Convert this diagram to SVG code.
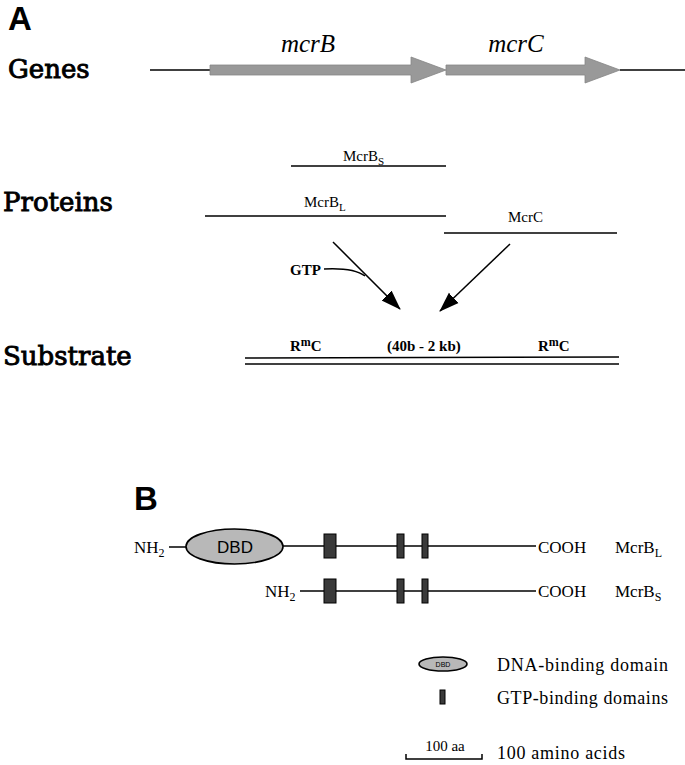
<svg xmlns="http://www.w3.org/2000/svg" width="685" height="765" viewBox="0 0 685 765">
<style>
.panel{font-family:"Liberation Sans",Arial,sans-serif;font-weight:bold;font-size:33px;fill:#000}
.row{font-family:"DejaVu Serif",serif;font-size:26px;fill:#000;stroke:#000;stroke-width:0.9}
.gene{font-family:"Liberation Serif",serif;font-style:italic;font-size:25px;fill:#000}
.lab{font-family:"Liberation Serif",serif;font-size:15px;fill:#000}
.bold{font-family:"Liberation Serif",serif;font-weight:bold;font-size:15px;fill:#000}
.end{font-family:"Liberation Serif",serif;font-size:17px;fill:#000}
.leg{font-family:"Liberation Serif",serif;font-size:18px;fill:#000}
.dbd{font-family:"Liberation Sans",Arial,sans-serif;fill:#000}
.ln{stroke:#000;stroke-width:1.5;fill:none}
.garrow{fill:#999;stroke:#858585;stroke-width:0.8}
.box{fill:#3a3a3a;stroke:#000;stroke-width:1}
.ell{fill:#b8b8b8;stroke:#000;stroke-width:1.6}
</style>
<defs>
<marker id="ah" markerUnits="userSpaceOnUse" markerWidth="20" markerHeight="16" viewBox="0 0 20 16" refX="19" refY="8" orient="auto">
<path d="M0,1 L20,8 L0,15 Z" fill="#000"/>
</marker>
</defs>
<rect width="685" height="765" fill="#fff"/>

<g id="panelA">
<text class="panel" x="8" y="30">A</text>
</g>

<g id="genes">
<text class="row" x="8" y="78">Genes</text>
<line class="ln" x1="150" y1="70" x2="210" y2="70"/>
<polygon class="garrow" points="210,65 411,65 411,57 446,70 411,83 411,75 210,75"/>
<text class="gene" x="308" y="52" text-anchor="middle">mcrB</text>
<polygon class="garrow" points="446,65 585,65 585,57 620,70 585,83 585,75 446,75"/>
<text class="gene" x="516" y="52" text-anchor="middle">mcrC</text>
<line class="ln" x1="620" y1="70" x2="685" y2="70"/>
</g>

<g id="proteins">
<text class="row" x="3" y="211">Proteins</text>
</g>
<g id="mcrBS">
<text class="lab" x="343" y="161">McrB<tspan font-size="11" dy="4">S</tspan></text>
<line class="ln" x1="291" y1="166" x2="446" y2="166"/>
</g>
<g id="mcrBL">
<text class="lab" x="304" y="207">McrB<tspan font-size="11" dy="4">L</tspan></text>
<line class="ln" x1="205" y1="216" x2="446" y2="216"/>
</g>
<g id="mcrC">
<text class="lab" x="508" y="222">McrC</text>
<line class="ln" x1="444" y1="233" x2="617" y2="233"/>
</g>
<g id="gtp">
<text class="bold" x="290" y="275">GTP</text>
</g>

<g id="substrate">
<text class="row" x="3" y="365">Substrate</text>
<text class="bold" x="290" y="351">R<tspan font-size="12" dy="-5">m</tspan><tspan dy="5">C</tspan></text>
<text class="bold" x="387" y="351">(40b - 2 kb)</text>
<text class="bold" x="538" y="351">R<tspan font-size="12" dy="-5">m</tspan><tspan dy="5">C</tspan></text>
<line class="ln" x1="245" y1="358" x2="619" y2="357"/>
<line class="ln" x1="245" y1="364" x2="619" y2="364"/>
</g>

<g id="connectors">
<line class="ln" x1="333" y1="242" x2="400" y2="309" marker-end="url(#ah)"/>
<line class="ln" x1="510" y1="244" x2="440" y2="311" marker-end="url(#ah)"/>
<path class="ln" d="M324,269 C343,268 357,270 365,276"/>
</g>

<g id="panelB">
<text class="panel" x="134" y="510">B</text>
</g>

<g id="mcrBL-domain">
<text class="end" x="134" y="553">NH<tspan font-size="12" dy="4">2</tspan></text>
<line class="ln" x1="169" y1="547" x2="187" y2="547"/>
<line class="ln" x1="282" y1="546" x2="536" y2="546"/>
<ellipse class="ell" cx="234.5" cy="546.5" rx="48.5" ry="17.5"/>
<text class="dbd" x="235" y="553" font-size="17" text-anchor="middle">DBD</text>
<rect class="box" x="324" y="534" width="12" height="24"/>
<rect class="box" x="397" y="534" width="7" height="24"/>
<rect class="box" x="422" y="534" width="6" height="24"/>
<text class="end" x="538" y="553">COOH</text>
<text class="end" x="615" y="553">McrB<tspan font-size="12" dy="4">L</tspan></text>
</g>

<g id="mcrBS-domain">
<text class="end" x="265" y="597">NH<tspan font-size="12" dy="4">2</tspan></text>
<line class="ln" x1="300" y1="591" x2="536" y2="591"/>
<rect class="box" x="324" y="579" width="12" height="24"/>
<rect class="box" x="397" y="579" width="7" height="24"/>
<rect class="box" x="422" y="579" width="6" height="24"/>
<text class="end" x="538" y="597">COOH</text>
<text class="end" x="615" y="597">McrB<tspan font-size="12" dy="4">S</tspan></text>
</g>

<g id="legend-dbd">
<ellipse class="ell" cx="443" cy="664" rx="24" ry="7" stroke-width="1.2"/>
<text class="dbd" x="443" y="666.5" font-size="7" text-anchor="middle">DBD</text>
<text class="leg" x="497" y="671" textLength="171">DNA-binding domain</text>
</g>
<g id="legend-gtp">
<rect class="box" x="440" y="690" width="5" height="14"/>
<text class="leg" x="497" y="704" textLength="171">GTP-binding domains</text>
</g>
<g id="legend-scale">
<text class="lab" x="445" y="751" font-size="14" text-anchor="middle">100 aa</text>
<path class="ln" d="M406,754 L406,759 L482,759 L482,754" stroke-width="1.5"/>
<text class="leg" x="497" y="759" textLength="128">100 amino acids</text>
</g>
</svg>
